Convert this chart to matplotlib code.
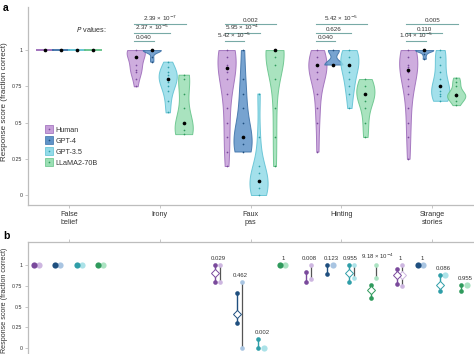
import numpy as np
import matplotlib
matplotlib.use('Agg')
import matplotlib.pyplot as plt
from matplotlib.lines import Line2D

plt.rcParams['font.family'] = ['Liberation Sans', 'DejaVu Sans']

categories = ['False\nbelief', 'Irony', 'Faux\npas', 'Hinting', 'Strange\nstories']
models = ['Human', 'GPT-4', 'GPT-3.5', 'LLaMA2-70B']

# ---- panel a: per-test score samples (Human, GPT-4, GPT-3.5, LLaMA2-70B)
false_belief_scores = [[1, 1, 1, 1, 1, 1], [1, 1, 1, 1, 1, 1],
                       [1, 1, 1, 1, 1, 1], [1, 1, 1, 1, 1, 1]]
irony_scores = [[1, 1, 1, 1, 1, 1, 0.95, 0.95, 0.95, 0.9, 0.9, 0.86, 0.85, 0.85, 0.8, 0.75],
                [1, 1, 1, 1, 1, 1, 1, 0.95, 0.92],
                [0.92, 0.88, 0.85, 0.83, 0.83, 0.8, 0.78, 0.75, 0.72, 0.65, 0.57],
                [0.83, 0.83, 0.8, 0.7, 0.6, 0.5, 0.5, 0.45, 0.42, 0.42, 0.42]]
faux_pas_scores = [[1, 1, 1, 1, 1, 0.95, 0.9, 0.9, 0.9, 0.85, 0.8, 0.8, 0.7, 0.6, 0.5, 0.4, 0.3, 0.2],
                   [1, 0.8, 0.7, 0.6, 0.5, 0.4, 0.4, 0.4, 0.35, 0.3, 0.3, 0.3],
                   [0.7, 0.4, 0.2, 0.15, 0.1, 0.1, 0.1, 0.05, 0.05, 0, 0],
                   [1, 1, 1, 1, 1, 1, 1, 0.95, 0.9, 0.8, 0.6, 0.4, 0.2]]
hinting_scores = [[1, 1, 0.95, 0.9, 0.9, 0.9, 0.9, 0.9, 0.85, 0.85, 0.8, 0.7, 0.6, 0.5, 0.3],
                  [1, 1, 1, 0.9, 0.9, 0.9, 0.9, 0.9],
                  [1, 1, 1, 0.95, 0.9, 0.9, 0.9, 0.85, 0.8, 0.75, 0.7, 0.6],
                  [0.8, 0.8, 0.75, 0.7, 0.7, 0.7, 0.65, 0.6, 0.5, 0.4]]
strange_scores = [[1, 1, 1, 1, 0.95, 0.95, 0.9, 0.9, 0.88, 0.85, 0.85, 0.8, 0.75, 0.7, 0.6, 0.5, 0.4, 0.25],
                  [1, 1, 1, 1, 1, 1, 0.97, 0.94],
                  [1, 1, 0.95, 0.9, 0.85, 0.8, 0.75, 0.75, 0.72, 0.7, 0.68, 0.65, 0.65],
                  [0.81, 0.78, 0.75, 0.7, 0.7, 0.68, 0.68, 0.68, 0.65, 0.62]]
violin_scores = [false_belief_scores, irony_scores, faux_pas_scores, hinting_scores, strange_scores]

# P values (Human vs GPT-4, vs GPT-3.5, vs LLaMA2-70B) per test
pvals_a = [None,
           ['0.040', '2.37 × 10$^{-5}$', '2.39 × 10$^{-7}$'],
           ['5.42 × 10$^{-5}$', '5.95 × 10$^{-4}$', '0.002'],
           ['0.040', '0.626', '5.42 × 10$^{-5}$'],
           ['1.04 × 10$^{-5}$', '0.110', '0.005']]

# ---- panel b: ranges (dark = original, light = novel); NaN = not shown
nan = np.nan
b_dark_hi = [[1, nan, 1.00, 0.92, 0.95], [1, nan, 0.66, 1.00, 1.00],
             [1, nan, 0.11, 1.00, 0.88], [1, nan, 1.00, 0.76, 0.76]]
b_dark_lo = [[1, nan, 0.80, 0.80, 0.77], [1, nan, 0.30, 0.89, 1.00],
             [1, nan, 0.00, 0.80, 0.69], [1, nan, 1.00, 0.60, 0.69]]
b_dark_mean = [[nan, nan, 0.90, nan, 0.88], [nan, nan, 0.41, nan, nan],
               [nan, nan, nan, 0.90, 0.76], [nan, nan, nan, 0.70, nan]]
b_light_hi = [[1, nan, 1.00, 1.00, 1.00], [1, nan, 0.80, 1.00, 1.00],
              [1, nan, 0.00, 1.00, 0.88], [1, nan, 1.00, 1.00, 0.76]]
b_light_lo = [[1, nan, 0.80, 0.83, 0.75], [1, nan, 0.00, 1.00, 1.00],
              [1, nan, 0.00, 0.84, 0.88], [1, nan, 1.00, 0.84, 0.76]]
b_light_mean = [[nan, nan, nan, nan, 0.88], [nan, nan, nan, nan, nan],
                [nan, nan, nan, nan, nan], [nan, nan, nan, nan, nan]]
pvals_b = [['', '', '0.029', '0.008', '1'],
           ['', '', '0.462', '0.123', '1'],
           ['', '', '0.002', '0.955', '0.086'],
           ['', '', '1', '9.18 × 10$^{-4}$', '0.955']]

# ---- styles / layout
fill_cols = ['#c69fd9', '#5f93c8', '#93dbe8', '#9adfb4']
edge_cols = ['#9a68b8', '#3a6fa6', '#5cc0d2', '#62c287']
dark_cols = ['#7a4a9c', '#1f4f7f', '#2f9ea8', '#2f9a5c']
light_cols = ['#cdb6e0', '#a9c5e2', '#abe2e8', '#abe3c2']
axis_col = '#bdbdbd'
text_col = '#333333'
pline_col = '#78aaa6'
label_nudge_b = {(2, 3): -0.03, (3, 3): 0.035}   # (model, test) -> x nudge of label

fig = plt.figure(figsize=(4.74, 3.54), dpi=100)
axa = fig.add_axes([28 / 474, 1 - 205 / 354, 446 / 474, 198 / 354])
axb = fig.add_axes([28 / 474, 0.0, 446 / 474, 112 / 354])

xs = np.arange(len(categories))
xlim = (-0.45, 4.46)
off_a = [-0.264, -0.088, 0.088, 0.264]
w = 0.2

for i, test in enumerate(violin_scores):
    for j, data in enumerate(test):
        data = np.asarray(data, float)
        x = xs[i] + off_a[j]
        if np.ptp(data) == 0:
            axa.hlines(data[0], x - w / 2, x + w / 2, color=edge_cols[j], lw=1.3, zorder=2)
        else:
            vp = axa.violinplot([data], positions=[x], widths=w, showextrema=False,
                                bw_method=0.55)
            b = vp['bodies'][0]
            b.set_facecolor(fill_cols[j])
            b.set_edgecolor(edge_cols[j])
            b.set_alpha(0.85)
            b.set_linewidth(0.7)
            u = np.unique(data)
            axa.scatter(np.full(len(u), x), u, s=1.5, color=dark_cols[j], zorder=3, lw=0)
        axa.scatter([x], [np.median(data)], s=7, color='black', zorder=5, lw=0)

# p-value brackets
line_levels = [1.062, 1.117, 1.18]
for i, pv in enumerate(pvals_a):
    if pv is None:
        continue
    x0 = xs[i] + off_a[0]
    for k in range(3):
        x1 = xs[i] + off_a[k + 1]
        y = line_levels[k]
        axa.plot([x0 - 0.02, x1 + 0.02], [y, y], color=pline_col, lw=0.8)
        axa.text((x0 + x1) / 2, y + 0.01, pv[k], ha='center', va='bottom',
                 fontsize=4.5, color=text_col)

axa.text(0.08, 1.14, r'$P$ values:', fontsize=5.2, color=text_col, va='center')

axa.set_xlim(*xlim)
axa.set_ylim(-0.069, 1.297)
axa.set_yticks([0, 0.25, 0.5, 0.75, 1])
axa.set_yticklabels(['0', '0.25', '0.5', '0.75', '1'])
axa.set_xticks(xs)
axa.set_xticklabels(categories, fontsize=5.2, color=text_col, linespacing=1.3)
axa.tick_params(axis='y', labelsize=3.8, colors=text_col, length=2, width=0.6, color=axis_col, pad=2)
axa.tick_params(axis='x', length=2, width=0.6, color=axis_col, pad=2)
for s in ['top', 'right']:
    axa.spines[s].set_visible(False)
for s in ['left', 'bottom']:
    axa.spines[s].set_color(axis_col)
    axa.spines[s].set_linewidth(0.9)
axa.set_ylabel('Response score (fraction correct)', fontsize=5.8, color=text_col)
axa.yaxis.set_label_coords(-0.045, 0.52)

handles = []
for j in range(4):
    sq = Line2D([], [], marker='s', ls='none', markersize=5.5, markerfacecolor=fill_cols[j],
                markeredgecolor=edge_cols[j], markeredgewidth=0.5)
    dt = Line2D([], [], marker='o', ls='none', markersize=1.2, markerfacecolor=dark_cols[j],
                markeredgewidth=0)
    handles.append((sq, dt))
axa.legend(handles, models, loc='upper left', bbox_to_anchor=(0.04, 0.395), frameon=False,
           fontsize=5.2, handlelength=1.0, handletextpad=0.3, labelspacing=0.55,
           borderpad=0, borderaxespad=0, labelcolor=text_col)

# ---- panel b
off_b = [-0.36, -0.125, 0.115, 0.35]
pair = 0.028
for j in range(4):
    for i in range(len(categories)):
        dh, dl, dm = b_dark_hi[j][i], b_dark_lo[j][i], b_dark_mean[j][i]
        lh, ll, lm = b_light_hi[j][i], b_light_lo[j][i], b_light_mean[j][i]
        if np.isnan(dh):
            continue
        xd = xs[i] + off_b[j] - pair
        xl = xs[i] + off_b[j] + pair
        # light
        if lh != ll:
            axb.vlines(xl, ll, lh, color='#555555', lw=0.9, zorder=2)
            axb.scatter([xl, xl], [ll, lh], s=11, color=light_cols[j], zorder=3, lw=0)
        else:
            axb.scatter([xl], [lh], s=20, color=light_cols[j], zorder=3, lw=0)
        if not np.isnan(lm):
            axb.plot(xl, lm, marker='D', ms=3.8, mfc='white', mec=light_cols[j], mew=0.7, zorder=4)
        # dark
        if dh != dl:
            axb.vlines(xd, dl, dh, color=dark_cols[j], lw=1.0, zorder=3)
            axb.scatter([xd, xd], [dl, dh], s=11, color=dark_cols[j], zorder=4, lw=0)
        else:
            axb.scatter([xd], [dh], s=20, color=dark_cols[j], zorder=4, lw=0)
        if not np.isnan(dm):
            axb.plot(xd, dm, marker='D', ms=3.8, mfc='white', mec=dark_cols[j], mew=0.7, zorder=5)
        lab = pvals_b[j][i]
        if lab:
            lx = xs[i] + off_b[j] + 0.01 + label_nudge_b.get((j, i), 0.0)
            axb.text(lx, max(dh, lh) + 0.045, lab, ha='center', va='bottom',
                     fontsize=4.3, color=text_col)

axb.set_xlim(*xlim)
axb.set_ylim(-0.072, 1.277)
axb.set_yticks([0, 0.25, 0.5, 0.75, 1])
axb.set_yticklabels(['0', '0.25', '0.5', '0.75', '1'])
axb.xaxis.tick_top()
axb.set_xticks(xs)
axb.set_xticklabels([])
axb.tick_params(axis='y', labelsize=3.8, colors=text_col, length=2, width=0.6, color=axis_col, pad=2)
axb.tick_params(axis='x', length=2, width=0.6, color=axis_col)
for s in ['bottom', 'right']:
    axb.spines[s].set_visible(False)
for s in ['left', 'top']:
    axb.spines[s].set_color(axis_col)
    axb.spines[s].set_linewidth(0.9)
axb.set_ylabel('Response score (fraction correct)', fontsize=5.1, color=text_col)
axb.yaxis.set_label_coords(-0.045, 0.48)

fig.text(3 / 474, 1 - 8 / 354, 'a', fontsize=7.5, fontweight='bold', va='center')
fig.text(3 / 474, 1 - 236 / 354, 'b', fontsize=7.5, fontweight='bold', va='center')

fig.savefig('out.png', dpi=100)
